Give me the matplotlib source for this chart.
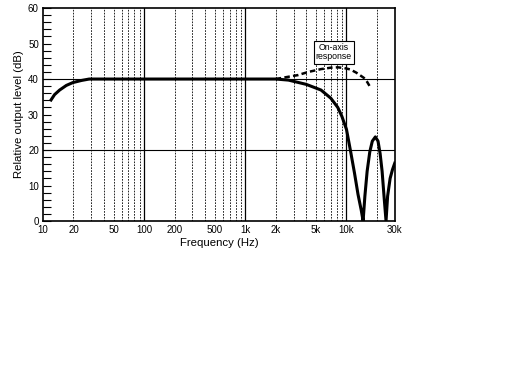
import numpy as np
import matplotlib.pyplot as plt
from matplotlib.ticker import FixedLocator, MultipleLocator

plt.rcParams['font.family'] = ['Liberation Sans', 'DejaVu Sans']

# reponse hors axe (trait plein)
freq_off = [12, 13, 14.6, 17, 19.7, 24, 28.6, 40, 100, 1000, 2000, 2670, 4000, 5600,
            7000, 8200, 9000, 10000, 11000, 12000, 13000, 14000, 14600,
            15200, 16000, 17000, 18000, 19300, 20500, 21500, 22500, 23500, 24600,
            25500, 27000, 28500, 30000]
db_off = [34.1, 35.6, 36.9, 38.2, 39, 39.6, 40, 40, 40, 40, 40, 39.7, 38.5, 36.9,
          34.6, 32, 29.5, 25.8, 19.5, 13.5, 7.5, 3, 0,
          7, 14, 19.5, 22.5, 23.7, 22.5, 19, 14, 7, 0,
          7, 12, 14.5, 16.3]

# reponse dans l'axe (pointilles)
freq_on = [2000, 2500, 3300, 4200, 5600, 7000, 8200, 9500, 10900, 12500, 14900, 16000, 17100]
db_on = [40, 40.5, 41.1, 42, 42.8, 43.2, 43.3, 43.1, 42.7, 41.8, 40.3, 39.2, 37.8]

xticks = [10, 20, 50, 100, 200, 500, 1000, 2000, 5000, 10000, 30000]
xlabels = ['10', '20', '50', '100', '200', '500', '1k', '2k', '5k', '10k', '30k']
dashed_lines = [20, 30, 40, 50, 60, 70, 80, 90, 200, 300, 400, 500, 600, 700, 800, 900,
                2000, 3000, 4000, 5000, 6000, 7000, 8000, 9000, 20000]
solid_lines = [100, 1000, 10000]
hlines = [20, 40]

fig = plt.figure(figsize=(5.12, 3.84), dpi=100)
ax = fig.add_axes([0.084, 0.4245, 0.687, 0.5545])

for f in dashed_lines:
    ax.axvline(f, color='black', lw=0.6, ls=(0, (2, 1.5)), zorder=1)
for f in solid_lines:
    ax.axvline(f, color='black', lw=0.9, zorder=1)
for y in hlines:
    ax.axhline(y, color='black', lw=0.8, zorder=1)

ax.plot(freq_off, db_off, color='black', lw=2.2, zorder=3, solid_joinstyle='round')
ax.plot(freq_on, db_on, color='black', lw=1.8, ls=(0, (2.2, 1.3)), zorder=3)

ax.text(7500, 47.6, 'On-axis\nresponse', ha='center', va='center', fontsize=6.3,
        linespacing=1.1,
        bbox=dict(boxstyle='square,pad=0.25', fc='white', ec='black', lw=0.8), zorder=4)

ax.set_xscale('log')
ax.set_xlim(10, 30000)
ax.set_ylim(0, 60)
ax.xaxis.set_major_locator(FixedLocator(xticks))
ax.set_xticklabels(xlabels)
ax.xaxis.set_minor_locator(FixedLocator([]))
ax.yaxis.set_major_locator(MultipleLocator(10))
ax.yaxis.set_minor_locator(MultipleLocator(2))
ax.tick_params(axis='x', length=0, labelsize=7, pad=3)
ax.tick_params(axis='y', which='both', direction='in', length=6, width=0.8, labelsize=7, pad=3)
for s in ax.spines.values():
    s.set_linewidth(1.2)

ax.set_xlabel('Frequency (Hz)', fontsize=8.2, labelpad=2)
ax.set_ylabel('Relative output level (dB)', fontsize=8.2, labelpad=3)

plt.savefig('out.png', dpi=100)
